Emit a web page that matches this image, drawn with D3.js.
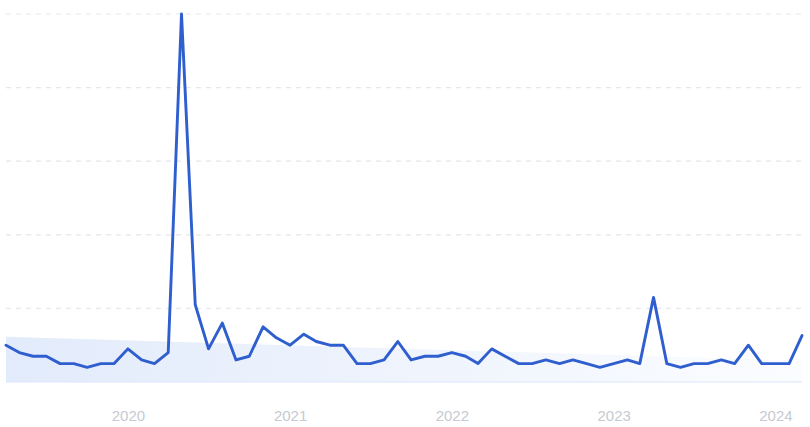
<!DOCTYPE html>
<html>
<head>
<meta charset="utf-8">
<script src="https://cdn.jsdelivr.net/npm/d3@7"></script>
<style>
  html, body { margin: 0; padding: 0; background: #fff; }
  svg { display: block; font-family: "Inter", "Noto Sans", sans-serif; }
</style>
</head>
<body>
<svg id="chart" width="810" height="427"></svg>
<script>
// monthly values, Apr 2019 .. Mar 2024
const startMonth = `2019-04`;
const values = [
  10, 8, 7, 7, 5, 5, 4, 5, 5,
  9, 6, 5, 8, 100, 21, 9, 16, 6, 7, 15, 12,
  10, 13, 11, 10, 10, 5, 5, 6, 11, 6, 7, 7,
  8, 7, 5, 9, 7, 5, 5, 6, 5, 6, 5, 4,
  5, 6, 5, 23, 5, 4, 5, 5, 6, 5, 10, 5,
  5, 5, 12.6
];
const trend = [12.3, 5.8]; // shaded trend band, start / end
const gridValues = [20, 40, 60, 80, 100];
const yearTicks = [`2020`, `2021`, `2022`, `2023`, `2024`];

const parseMonth = d3.timeParse(`%Y-%m`);
const start = parseMonth(startMonth);
const data = values.map((v, i) => ({ date: d3.timeMonth.offset(start, i), value: v }));

const svg = d3.select(`#chart`);
const x = d3.scaleTime()
  .domain(d3.extent(data, d => d.date))
  .range([6, 802]);
const y = d3.scaleLinear().domain([0, 100]).range([382, 14]);

// gradient for the trend band
const grad = svg.append(`defs`).append(`linearGradient`)
  .attr(`id`, `band`).attr(`x1`, `0%`).attr(`x2`, `100%`);
grad.append(`stop`).attr(`offset`, `0%`).attr(`stop-color`, `#dfe9fb`).attr(`stop-opacity`, 0.9);
grad.append(`stop`).attr(`offset`, `100%`).attr(`stop-color`, `#dfe9fb`).attr(`stop-opacity`, 0.12);

// dashed grid
svg.append(`g`).selectAll(`line`)
  .data(gridValues)
  .enter().append(`line`)
    .attr(`x1`, x.range()[0])
    .attr(`x2`, x.range()[1])
    .attr(`y1`, d => y(d))
    .attr(`y2`, d => y(d))
    .style(`stroke`, `#e4e7ec`)
    .style(`stroke-width`, 1.2)
    .style(`stroke-dasharray`, `5 5`);

// trend band
const [d0, d1] = x.domain();
const bandPts = [
  { date: d0, value: trend[0] },
  { date: d1, value: trend[1] }
];
svg.append(`path`)
  .datum(bandPts)
  .attr(`d`, d3.area().x(d => x(d.date)).y0(y(0)).y1(d => y(d.value)))
  .style(`fill`, `url(#band)`);

// baseline
svg.append(`line`)
  .attr(`x1`, x.range()[0]).attr(`x2`, x.range()[1])
  .attr(`y1`, y(0)).attr(`y2`, y(0))
  .style(`stroke`, `#dbe6fa`)
  .style(`stroke-width`, 1);

// year axis
const xAxis = d3.axisBottom(x)
  .tickValues(yearTicks.map(t => d3.timeParse(`%Y`)(t)))
  .tickFormat(d3.timeFormat(`%Y`))
  .tickSize(0)
  .tickPadding(0);
const ax = svg.append(`g`)
  .attr(`transform`, `translate(0, 409)`)
  .call(xAxis);
ax.select(`.domain`).remove();
ax.selectAll(`text`)
  .style(`font-size`, `15px`)
  .style(`fill`, `#c6cad1`)
  .attr(`dy`, `0.8em`);

// the line
svg.append(`path`)
  .datum(data)
  .attr(`d`, d3.line().x(d => x(d.date)).y(d => y(d.value)))
  .style(`fill`, `none`)
  .style(`stroke`, `#2f5ecf`)
  .style(`stroke-width`, 2.9)
  .style(`stroke-linejoin`, `round`)
  .style(`stroke-linecap`, `round`);
</script>
</body>
</html>
